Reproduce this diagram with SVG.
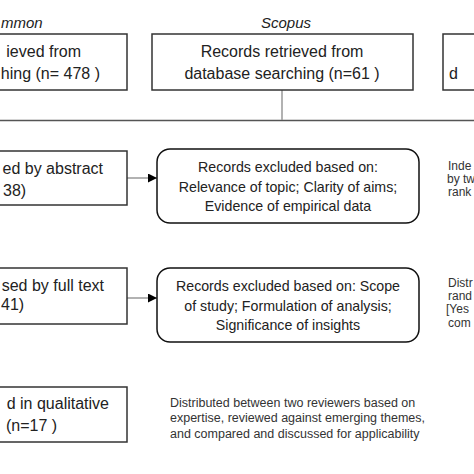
<svg xmlns="http://www.w3.org/2000/svg" width="474" height="474" viewBox="0 0 474 474">
<defs>
<marker id="ah" viewBox="0 0 10 10" refX="10" refY="5" markerWidth="9" markerHeight="9" markerUnits="userSpaceOnUse" orient="auto">
<path d="M0,0 L10,5 L0,10 z" fill="#000"/>
</marker>
<style>
.box{fill:#fff;stroke:#333;stroke-width:1.5}
.rbox{fill:#fff;stroke:#111;stroke-width:1.5}
.t{font-family:"Liberation Sans",Arial,sans-serif;font-size:16px;fill:#222}
.h{font-family:"Liberation Sans",Arial,sans-serif;font-size:15px;font-style:italic;fill:#222}
.r{font-family:"Liberation Sans",Arial,sans-serif;font-size:14.2px;fill:#222}
.s{font-family:"Liberation Sans",Arial,sans-serif;font-size:12.5px;fill:#333}
.n{font-family:"Liberation Sans",Arial,sans-serif;font-size:12px;fill:#333}
.c{stroke:#999;stroke-width:1.5;fill:none}
</style>
</defs>
<rect width="474" height="474" fill="#fff"/>
<g id="headers">
<text class="h" x="1" y="28">mmon</text>
<text class="h" x="286" y="28" text-anchor="middle" font-size="16">Scopus</text>
</g>
<g id="connectors">
<line x1="0" y1="120.5" x2="474" y2="120.5" stroke="#555" stroke-width="1.6"/>
<line class="c" x1="282" y1="90" x2="282" y2="120"/>
<line class="c" x1="127" y1="178" x2="157" y2="178" marker-end="url(#ah)"/>
<line class="c" x1="127" y1="298" x2="157" y2="298" marker-end="url(#ah)"/>
</g>
<g id="node-left-1">
<rect class="box" x="-10" y="34" width="137" height="56"/>
<text class="t" x="81" y="57" text-anchor="end">ieved from</text>
<text class="t" x="100" y="79" text-anchor="end">hing (n= 478 )</text>
</g>
<g id="node-scopus">
<rect class="box" x="152" y="34" width="261" height="56"/>
<text class="t" x="282" y="57" text-anchor="middle">Records retrieved from</text>
<text class="t" x="282" y="79" text-anchor="middle">database searching (n=61 )</text>
</g>
<g id="node-right-1">
<rect class="box" x="443" y="34" width="60" height="56"/>
<text class="t" x="449" y="79">d</text>
</g>
<g id="node-abstract">
<rect class="box" x="-10" y="151" width="137" height="54"/>
<text class="t" x="103" y="174" text-anchor="end">ed by abstract</text>
<text class="t" x="3" y="196">38)</text>
</g>
<g id="node-excl-1">
<rect class="rbox" x="157" y="149" width="262" height="74" rx="13"/>
<text class="r" x="288" y="172" text-anchor="middle">Records excluded based on:</text>
<text class="r" x="288" y="191.5" text-anchor="middle">Relevance of topic; Clarity of aims;</text>
<text class="r" x="288" y="211" text-anchor="middle">Evidence of empirical data</text>
</g>
<g id="note-1">
<text class="n" x="448" y="169.5">Inde</text>
<text class="n" x="447" y="182.5" font-size="11">by tw</text>
<text class="n" x="448" y="195.5">rank</text>
</g>
<g id="node-fulltext">
<rect class="box" x="-10" y="268" width="137" height="56"/>
<text class="t" x="104" y="291" text-anchor="end">sed by full text</text>
<text class="t" x="1" y="310">41)</text>
</g>
<g id="node-excl-2">
<rect class="rbox" x="157" y="268" width="262" height="74" rx="13"/>
<text class="r" x="288" y="291" text-anchor="middle">Records excluded based on: Scope</text>
<text class="r" x="288" y="310.5" text-anchor="middle">of study; Formulation of analysis;</text>
<text class="r" x="288" y="330" text-anchor="middle">Significance of insights</text>
</g>
<g id="note-2">
<text class="n" x="448" y="286.5">Distr</text>
<text class="n" x="448" y="300">rand</text>
<text class="n" x="446" y="313" font-size="10">[Yes</text>
<text class="n" x="448" y="326.5">com</text>
</g>
<g id="node-qualitative">
<rect class="box" x="-10" y="387" width="137" height="55"/>
<text class="t" x="109" y="409" text-anchor="end">d in qualitative</text>
<text class="t" x="6" y="431">(n=17 )</text>
</g>
<g id="note-3">
<text class="s" x="170" y="406.5">Distributed between two reviewers based on</text>
<text class="s" x="170" y="422">expertise, reviewed against emerging themes,</text>
<text class="s" x="170" y="437.5">and compared and discussed for applicability</text>
</g>
</svg>
